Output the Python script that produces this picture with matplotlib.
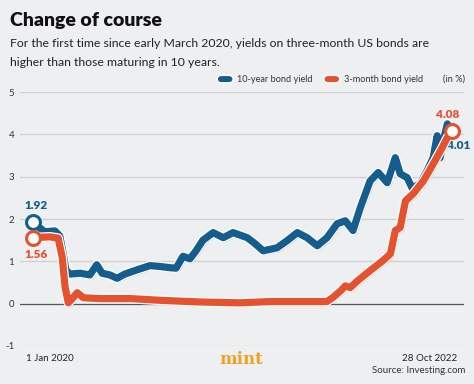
import matplotlib.pyplot as plt
import matplotlib.patches as mpatches
import matplotlib.patheffects as pe
import pandas as pd

plt.rcParams['font.family'] = ['Lato', 'DejaVu Sans']

# 10-year US bond yield (%)
ten_year_dates = [
    "2020-01-01", "2020-01-30", "2020-02-24", "2020-03-07", "2020-03-15", "2020-03-22",
    "2020-04-01", "2020-04-26", "2020-05-20", "2020-06-06", "2020-06-19", "2020-07-08",
    "2020-07-26", "2020-08-14", "2020-09-13", "2020-10-15", "2020-11-08", "2020-12-03",
    "2020-12-18", "2021-01-04", "2021-01-21", "2021-02-05", "2021-02-22", "2021-03-19",
    "2021-04-13", "2021-05-07", "2021-06-11", "2021-06-30", "2021-07-20", "2021-08-23",
    "2021-09-17", "2021-10-12", "2021-11-05", "2021-11-30", "2021-12-24", "2022-01-18",
    "2022-02-07", "2022-02-26", "2022-03-16", "2022-04-09", "2022-04-29", "2022-05-21",
    "2022-06-10", "2022-06-22", "2022-07-09", "2022-07-22", "2022-08-10", "2022-08-27",
    "2022-09-11", "2022-09-21", "2022-09-28", "2022-10-06", "2022-10-16", "2022-10-28",
]
ten_year = [
    1.92, 1.70, 1.72, 1.60, 1.20, 0.80,
    0.70, 0.72, 0.68, 0.92, 0.72, 0.68,
    0.60, 0.70, 0.80, 0.90, 0.88, 0.85,
    0.84, 1.12, 1.06, 1.25, 1.50, 1.68,
    1.56, 1.68, 1.56, 1.42, 1.25, 1.32,
    1.49, 1.68, 1.56, 1.37, 1.56, 1.89,
    1.96, 1.73, 2.27, 2.90, 3.10, 2.86,
    3.45, 3.07, 2.98, 2.72, 2.84, 3.14,
    3.45, 3.97, 3.45, 3.85, 4.25, 4.01,
]

# 3-month US bond yield (%)
three_month_dates = [
    "2020-01-01", "2020-02-12", "2020-03-03", "2020-03-13", "2020-03-20", "2020-03-28",
    "2020-04-07", "2020-04-19", "2020-05-04", "2020-06-15", "2020-08-28", "2020-11-08",
    "2021-02-14", "2021-05-24", "2021-08-06", "2021-10-19", "2021-12-24", "2022-01-08",
    "2022-01-26", "2022-02-07", "2022-02-19", "2022-03-09", "2022-04-09", "2022-05-11",
    "2022-05-29", "2022-06-10", "2022-06-22", "2022-07-05", "2022-07-24", "2022-08-18",
    "2022-09-11", "2022-10-04", "2022-10-16", "2022-10-28",
]
three_month = [
    1.56, 1.58, 1.55, 1.10, 0.40, 0.02,
    0.12, 0.26, 0.14, 0.12, 0.12, 0.08,
    0.04, 0.02, 0.05, 0.05, 0.05, 0.15,
    0.30, 0.42, 0.38, 0.54, 0.78, 1.02,
    1.18, 1.73, 1.80, 2.43, 2.60, 2.90,
    3.30, 3.70, 3.93, 4.08,
]

y_ticks = [-1, 0, 1, 2, 3, 4, 5]

BLUE = "#155d8c"
RED = "#e4522f"
BG = "#eeeff1"

ty = pd.to_datetime(ten_year_dates)
tm = pd.to_datetime(three_month_dates)

fig = plt.figure(figsize=(4.74, 3.84), dpi=100, facecolor=BG)
ax = fig.add_axes([0.042, 0.099, 0.937, 0.661], facecolor=BG)

effects = [
    pe.SimpleLineShadow(offset=(0.8, -0.8), shadow_color="#555555", alpha=0.35),
    pe.Stroke(linewidth=7, foreground="white"),
    pe.Normal(),
]
ax.plot(ty, ten_year, color=BLUE, lw=5.2, solid_joinstyle="round",
        solid_capstyle="round", path_effects=effects, zorder=3)
ax.plot(tm, three_month, color=RED, lw=5.2, solid_joinstyle="round",
        solid_capstyle="round", path_effects=effects, zorder=4)

# end-point circles
ax.plot(ty[0], ten_year[0], "o", ms=10, mfc="white", mec=BLUE, mew=2.2, zorder=5)
ax.plot(tm[0], three_month[0], "o", ms=10, mfc="white", mec=RED, mew=2.2, zorder=5)
ax.plot(tm[-1], three_month[-1], "o", ms=10, mfc="white", mec=RED, mew=2.2, zorder=6)

ax.annotate(f"{ten_year[0]:.2f}", (ty[0], ten_year[0]), xytext=(2, 8),
            textcoords="offset points", ha="center", va="bottom", color=BLUE,
            fontsize=8.5, fontweight="heavy")
ax.annotate(f"{three_month[0]:.2f}", (tm[0], three_month[0]), xytext=(2, -8),
            textcoords="offset points", ha="center", va="top", color=RED,
            fontsize=8.5, fontweight="heavy")
ax.annotate(f"{three_month[-1]:.2f}", (tm[-1], three_month[-1]), xytext=(-3, 8),
            textcoords="offset points", ha="center", va="bottom", color=RED,
            fontsize=8.5, fontweight="heavy")
ax.annotate(f"{ten_year[-1]:.2f}", (ty[-1], ten_year[-1]), xytext=(-4, -4),
            textcoords="offset points", ha="left", va="top", color=BLUE,
            fontsize=8.5, fontweight="heavy")

ax.set_ylim(-1, 5)
ax.set_xlim(pd.Timestamp("2019-11-30"), pd.Timestamp("2022-11-26"))
ax.set_yticks(y_ticks)
ax.set_yticklabels([str(t) for t in y_ticks], fontsize=7, color="#333333")
ax.tick_params(axis="y", length=0, pad=4)
ax.set_xticks([])
for t in y_ticks:
    if t == 0:
        ax.axhline(t, color="#555555", lw=0.9, zorder=1)
    else:
        ax.axhline(t, color="#cfcfd2", lw=0.9, zorder=1)
for s in ax.spines.values():
    s.set_visible(False)

ax.text(0.013, -0.03, "1 Jan 2020", transform=ax.transAxes, ha="left", va="top",
        fontsize=7, color="#222222")
ax.text(0.985, -0.03, "28 Oct 2022", transform=ax.transAxes, ha="right", va="top",
        fontsize=7, color="#222222")

# titles
fig.text(0.021, 0.932, "Change of course", fontsize=14, fontweight="heavy",
         color="#111111", va="baseline")
fig.text(0.021, 0.878, "For the first time since early March 2020, yields on three-month US bonds are",
         fontsize=8.8, color="#222222", va="baseline")
fig.text(0.021, 0.828, "higher than those maturing in 10 years.",
         fontsize=8.8, color="#222222", va="baseline")

# legend
leg_y = 0.794
for x0, col, lab in [(0.458, BLUE, "10-year bond yield"), (0.683, RED, "3-month bond yield")]:
    fig.patches.append(mpatches.FancyBboxPatch(
        (x0, leg_y - 0.01), 0.034, 0.02, boxstyle="round,pad=0,rounding_size=0.01",
        transform=fig.transFigure, fc=col, ec="white", lw=1.2, zorder=5))
    fig.text(x0 + 0.042, leg_y, lab, fontsize=6.6, color="#333333", va="center")
fig.text(0.981, leg_y, "(in %)", fontsize=6.6, color="#333333", va="center", ha="right")

fig.text(0.51, 0.063, "mint", fontsize=12, fontweight="bold", family=["DejaVu Serif"],
         color="#f2a11f", ha="center", va="center")
fig.text(0.981, 0.028, "Source: Investing.com", fontsize=7, color="#333333",
         ha="right", va="baseline")

fig.savefig("out.png", dpi=100, facecolor=BG)
